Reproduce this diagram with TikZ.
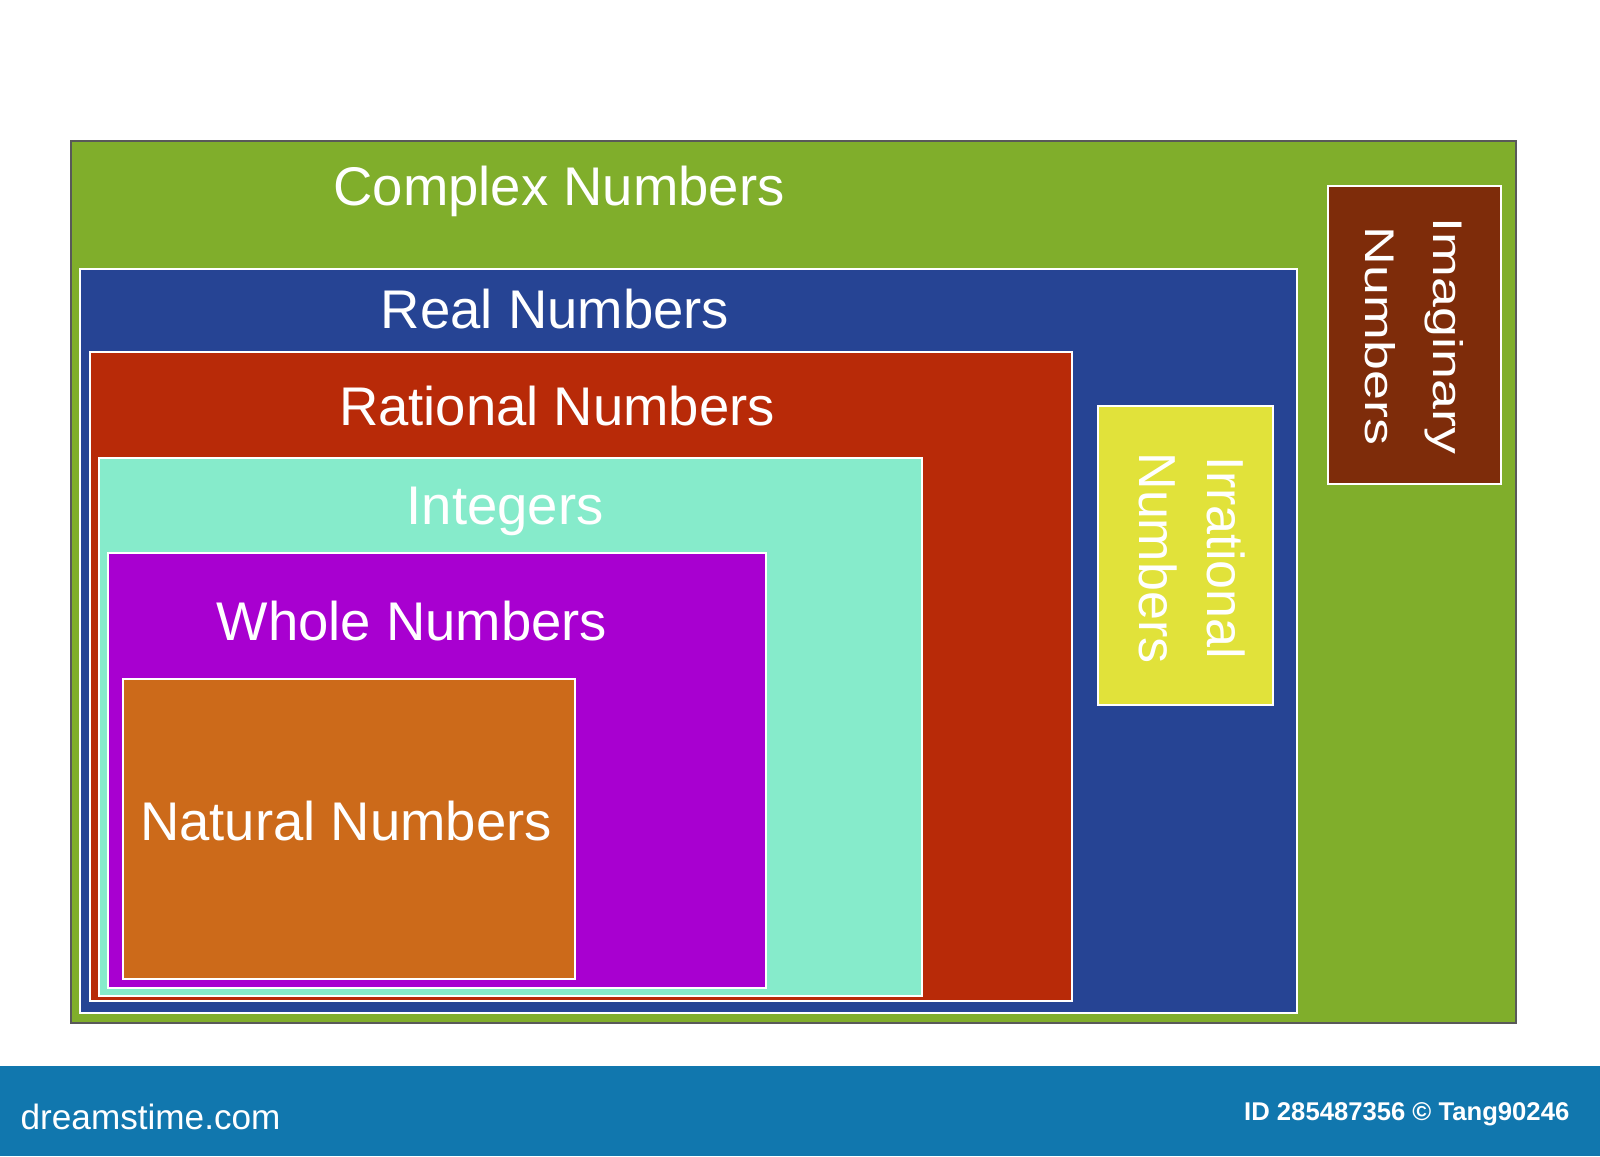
\documentclass[tikz,border=0pt]{standalone}
\usepackage{fontspec}
\setmainfont{Liberation Sans}
\usepackage{xcolor}
\usepackage{tikz}

\definecolor{complexgreen}{HTML}{80AE2B}
\definecolor{realblue}{HTML}{264494}
\definecolor{rationalred}{HTML}{B82A08}
\definecolor{integeraqua}{HTML}{86EBCB}
\definecolor{wholepurple}{HTML}{A800D0}
\definecolor{naturalorange}{HTML}{CC6A1A}
\definecolor{irrationalyellow}{HTML}{E1E23A}
\definecolor{imaginarybrown}{HTML}{7E2C0A}
\definecolor{bandblue}{HTML}{1177AE}

\begin{document}
\begin{tikzpicture}[
    x=0.1mm, y=-0.1mm,
    setbox/.style={draw=white, line width=0.4pt},
    setlabel/.style={text=white, inner sep=0pt, anchor=base,
        font=\fontsize{15.5}{18}\selectfont},
    vlabel/.style={text=white, inner sep=0pt, align=center,
        rotate=-90, transform shape},
    bandtext/.style={text=white, inner sep=0pt}
]
    \useasboundingbox (0,0) rectangle (1600,1156);

    % nested sets
    \draw[setbox, draw=black!65, fill=complexgreen] (71,141) rectangle (1516,1023);
    \draw[setbox, fill=realblue] (80,269) rectangle (1297,1013);
    \draw[setbox, fill=rationalred] (90,352) rectangle (1072,1001);
    \draw[setbox, fill=integeraqua] (99,458) rectangle (922,996);
    \draw[setbox, fill=wholepurple] (108,553) rectangle (766,988);
    \draw[setbox, fill=naturalorange] (123,679) rectangle (575,979);
    \draw[setbox, fill=irrationalyellow] (1098,406) rectangle (1273,705);
    \draw[setbox, fill=imaginarybrown] (1328,186) rectangle (1501,484);

    \node[setlabel] (complex) at (559,205) {Complex Numbers};
    \node[setlabel] (real) at (555,328) {Real Numbers};
    \node[setlabel] (rational) at (557,425) {Rational Numbers};
    \node[setlabel] (integers) at (505,524) {Integers};
    \node[setlabel] (whole) at (412,640) {Whole Numbers};
    \node[setlabel] (natural) at (346,840) {Natural Numbers};

    \node[vlabel, yscale=0.77, font=\fontsize{15.3}{25}\selectfont]
        (imaginary) at (1414,336) {Imaginary\\Numbers};
    \node[vlabel, font=\fontsize{14.8}{19.3}\selectfont]
        (irrational) at (1192,558) {Irrational\\Numbers};

    % bottom strip
    \fill[bandblue] (0,1066) rectangle (1600,1156);
    \node[bandtext, anchor=base west, font=\fontsize{10}{12}\selectfont]
        (site) at (20,1129) {dreamstime.com};
    \node[bandtext, anchor=base east, font=\bfseries\fontsize{7.3}{9}\selectfont]
        (photoid) at (1570,1120) {ID 285487356 © Tang90246};
\end{tikzpicture}
\end{document}
